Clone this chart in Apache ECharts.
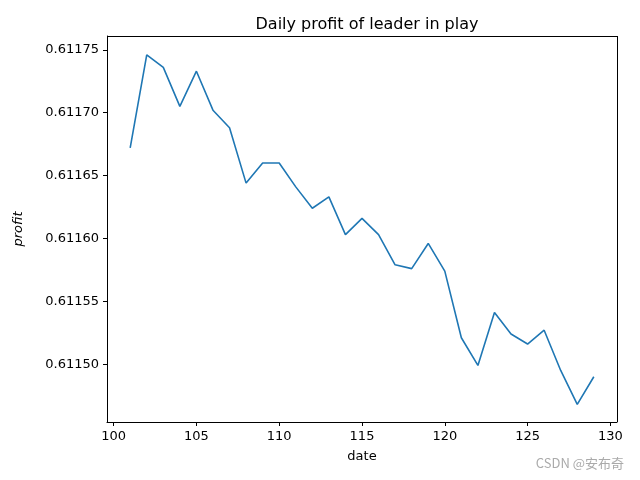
<!DOCTYPE html>
<html>
<head>
<meta charset="utf-8">
<script src="https://cdn.jsdelivr.net/npm/echarts@6/dist/echarts.min.js"></script>
<style>html,body{margin:0;padding:0;background:#fff}#chart{width:640px;height:480px}</style>
</head>
<body>
<div id="chart"></div>
<script>
// 日期和利润数据
const dates = [101,102,103,104,105,106,107,108,109,110,111,112,113,114,115,116,117,118,119,120,121,122,123,124,125,126,127,128,129]
const profit = [0.611672,0.611746,0.611736,0.611705,0.611733,0.611702,0.611688,0.611644,0.611660,0.611660,
  0.611641,0.611624,0.611633,0.611603,0.611616,0.611603,0.611579,0.611576,0.611596,0.611574,
  0.611521,0.611499,0.611541,0.611524,0.611516,0.611527,0.611495,0.611468,0.611490]
const xTicks = [100,105,110,115,120,125,130]
const yTicks = [0.6115,0.61155,0.6116,0.61165,0.6117,0.61175]

const chart = echarts.init(document.getElementById('chart'))
const font = 'DejaVu Sans'
const option = {
  animation: false,
  title: { text: 'Daily profit of leader in play', left: 362, top: 12, textAlign: 'center',
    textStyle: { fontFamily: font, fontSize: 16, fontWeight: 'normal', color: '#000' } },
  graphic: [{ type: 'text', right: 16, bottom: 10,
    style: { text: 'CSDN @安布奇', fill: '#aaa', font: '13px "Noto Sans CJK SC"' } }],
  grid: { left: 107, right: 23, top: 36, bottom: 58 },
  xAxis: {
    type: 'value', min: 99.6, max: 130.4,
    name: 'date', nameLocation: 'middle', nameGap: 28,
    nameTextStyle: { fontFamily: font, fontSize: 13, color: '#000' },
    axisLine: { onZero: false, lineStyle: { color: '#000' } },
    axisTick: { show: true, customValues: xTicks, length: 4, lineStyle: { color: '#000' } },
    axisLabel: { customValues: xTicks, fontFamily: font, fontSize: 13, color: '#000' },
    splitLine: { show: false }
  },
  yAxis: {
    type: 'value', min: 0.611454, max: 0.611761,
    name: 'profit', nameLocation: 'middle', nameGap: 82,
    nameTextStyle: { fontFamily: font, fontSize: 13, fontStyle: 'italic', color: '#000' },
    axisLine: { show: true, onZero: false, lineStyle: { color: '#000' } },
    axisTick: { show: true, customValues: yTicks, length: 4, lineStyle: { color: '#000' } },
    axisLabel: { customValues: yTicks, fontFamily: font, fontSize: 13, color: '#000',
      formatter: v => v.toFixed(5) },
    splitLine: { show: false }
  },
  series: [{
    type: 'line', data: dates.map((d, i) => [d, profit[i]]),
    showSymbol: false, lineStyle: { color: '#1f77b4', width: 1.6 }, itemStyle: { color: '#1f77b4' }
  }, {
    // 上边框和右边框
    type: 'line', data: [], markLine: { silent: true, symbol: 'none', label: { show: false },
      lineStyle: { color: '#000', type: 'solid', width: 1 },
      data: [[{ coord: [99.6, 0.611761] }, { coord: [130.4, 0.611761] }],
             [{ coord: [130.4, 0.611454] }, { coord: [130.4, 0.611761] }]] }
  }]
}
chart.setOption(option)
</script>
</body>
</html>
